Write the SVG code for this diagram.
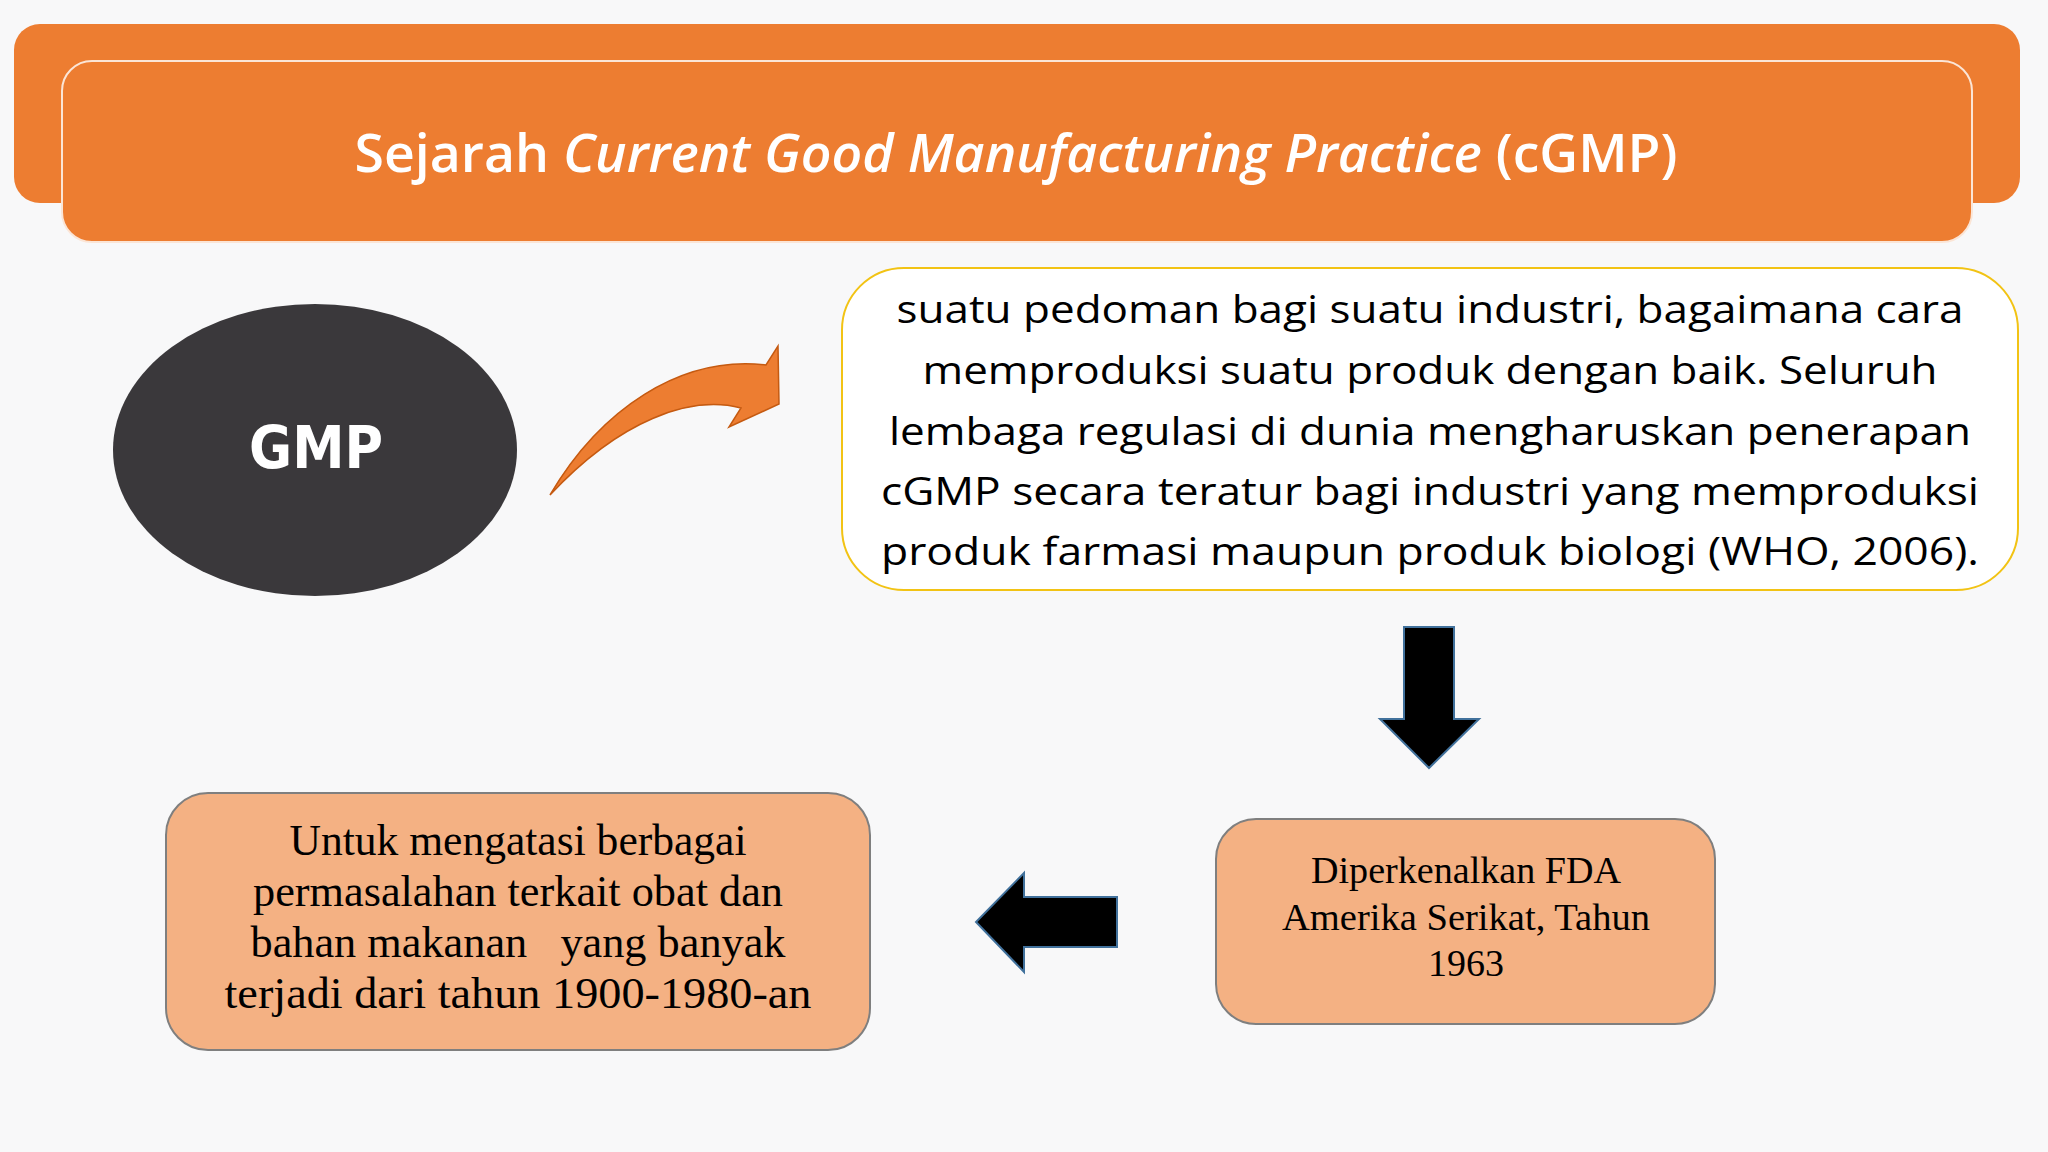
<svg xmlns="http://www.w3.org/2000/svg" width="2048" height="1152" viewBox="0 0 2048 1152">
<style>
.title{font-family:"Open Sans","Noto Sans",sans-serif;font-size:53px;font-weight:600;fill:#ffffff}
.body{font-family:"Open Sans","Noto Sans",sans-serif;font-size:39px;fill:#000000}
.serifL{font-family:"Liberation Serif","DejaVu Serif",serif;font-size:45px;fill:#000000;white-space:pre}
.serifR{font-family:"Liberation Serif","DejaVu Serif",serif;font-size:38px;fill:#000000}
.peach{fill:#f4b183;stroke:#7f7f7f;stroke-width:2}
.blk{fill:#000000;stroke:#41719c;stroke-width:2}
</style>
<rect width="2048" height="1152" fill="#f8f8f9"/>
<g id="header">
<rect x="14" y="24" width="2006" height="179" rx="26" fill="#ed7d31"/>
<rect x="62" y="61" width="1910" height="181" rx="30" fill="#ed7d31" stroke="#fbe5d6" stroke-width="2"/>
<text class="title" x="1016" y="172" text-anchor="middle" textLength="1323" lengthAdjust="spacingAndGlyphs">Sejarah <tspan font-style="italic">Current Good Manufacturing Practice</tspan> (cGMP)</text>
</g>
<g id="gmp">
<ellipse cx="315" cy="450" rx="202" ry="146" fill="#3a383b"/>
<text x="316" y="468" text-anchor="middle" font-family="'DejaVu Sans',sans-serif" font-weight="bold" font-size="58" fill="#ffffff" textLength="134" lengthAdjust="spacingAndGlyphs">GMP</text>
</g>
<g id="definition">
<rect x="842" y="268" width="1176" height="322" rx="62" fill="#ffffff" stroke="#f2c314" stroke-width="2"/>
<text class="body" x="1430" y="323" text-anchor="middle" textLength="1067" lengthAdjust="spacingAndGlyphs">suatu pedoman bagi suatu industri, bagaimana cara</text>
<text class="body" x="1430" y="384" text-anchor="middle" textLength="1015" lengthAdjust="spacingAndGlyphs">memproduksi suatu produk dengan baik. Seluruh</text>
<text class="body" x="1430" y="445" text-anchor="middle" textLength="1082" lengthAdjust="spacingAndGlyphs">lembaga regulasi di dunia mengharuskan penerapan</text>
<text class="body" x="1430" y="505" text-anchor="middle" textLength="1098" lengthAdjust="spacingAndGlyphs">cGMP secara teratur bagi industri yang memproduksi</text>
<text class="body" x="1430" y="565" text-anchor="middle" textLength="1098" lengthAdjust="spacingAndGlyphs">produk farmasi maupun produk biologi (WHO, 2006).</text>
</g>
<g id="fda">
<rect class="peach" x="1216" y="819" width="499" height="205" rx="40"/>
<text class="serifR" x="1466" y="883" text-anchor="middle" textLength="310" lengthAdjust="spacingAndGlyphs">Diperkenalkan FDA</text>
<text class="serifR" x="1466" y="930" text-anchor="middle" textLength="368" lengthAdjust="spacingAndGlyphs">Amerika Serikat, Tahun</text>
<text class="serifR" x="1466" y="976" text-anchor="middle">1963</text>
</g>
<g id="problem">
<rect class="peach" x="166" y="793" width="704" height="257" rx="42"/>
<text class="serifL" x="518" y="855" text-anchor="middle" textLength="457" lengthAdjust="spacingAndGlyphs">Untuk mengatasi berbagai</text>
<text class="serifL" x="518" y="906" text-anchor="middle" textLength="530" lengthAdjust="spacingAndGlyphs">permasalahan terkait obat dan</text>
<text class="serifL" x="518" y="957" text-anchor="middle" textLength="535" lengthAdjust="spacingAndGlyphs" xml:space="preserve">bahan makanan   yang banyak</text>
<text class="serifL" x="518" y="1008" text-anchor="middle" textLength="587" lengthAdjust="spacingAndGlyphs">terjadi dari tahun 1900-1980-an</text>
</g>
<g id="connectors">
<path d="M550,495 C600,410 680,355 766,365 L778,346 L779,404 L729,427 L741,408 C690,395 620,420 550,495 Z" fill="#ed7d31" stroke="#c55a11" stroke-width="1.5"/>
<path class="blk" d="M1404,627 L1454,627 L1454,719 L1479,719 L1429,768 L1380,719 L1404,719 Z"/>
<path class="blk" d="M1117,897 L1024,897 L1024,873 L976,922 L1024,972 L1024,947 L1117,947 Z"/>
</g>
</svg>
